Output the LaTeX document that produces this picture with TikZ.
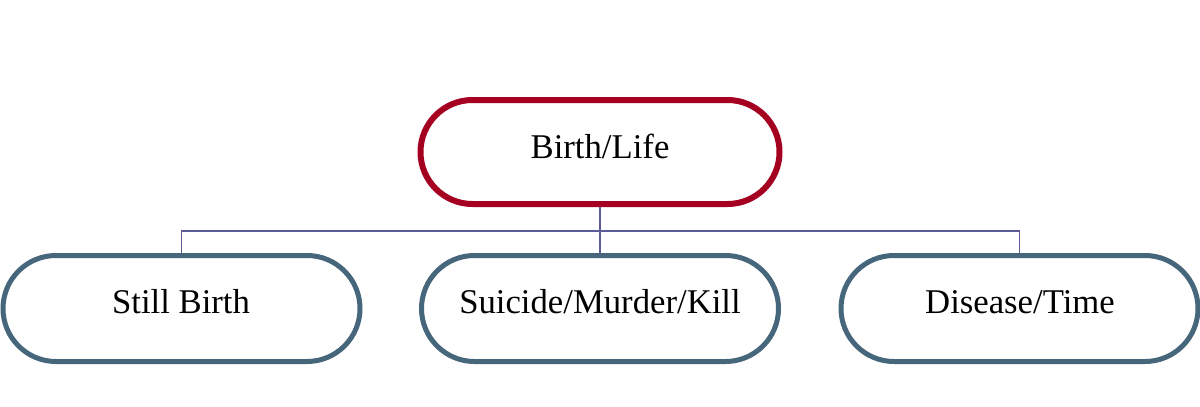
\documentclass[tikz,border=0pt]{standalone}
\usepackage{fontspec}
\setmainfont{Liberation Serif}
\definecolor{topred}{HTML}{A50021}
\definecolor{slate}{HTML}{46667C}
\definecolor{conn}{HTML}{5B5B9A}
\begin{document}
\begin{tikzpicture}[x=1pt,y=-1pt,
  topbox/.style={draw=topred,line width=6pt,fill=white,rounded corners=52pt,minimum width=359pt,minimum height=104pt,inner sep=0pt},
  subbox/.style={draw=slate,line width=5pt,fill=white,rounded corners=53pt,minimum width=357pt,minimum height=106pt,inner sep=0pt},
  lbl/.style={anchor=base,inner sep=0pt,font=\fontsize{34.7}{40}\selectfont},
  connector/.style={draw=conn,line width=1.6pt}]
\useasboundingbox (0,0) rectangle (1200,407);
\fill[white] (0,0) rectangle (1200,407);
\coordinate (hub) at (600,231);
\node[topbox] (top) at (600,152) {};
\node[subbox] (s1) at (181.5,308.5) {};
\node[subbox] (s2) at (600,308.5) {};
\node[subbox] (s3) at (1019.5,308.5) {};
\draw[connector] (top.south) -- (hub);
\draw[connector] (s1.north) |- (hub) -| (s3.north);
\draw[connector] (hub) -- (s2.north);
\node[lbl] (t0) at (600,158) {Birth/Life};
\node[lbl] (t1) at (181,313) {Still Birth};
\node[lbl] (t2) at (600,313) {Suicide/Murder/Kill};
\node[lbl] (t3) at (1020,313) {Disease/Time};
\end{tikzpicture}
\end{document}
